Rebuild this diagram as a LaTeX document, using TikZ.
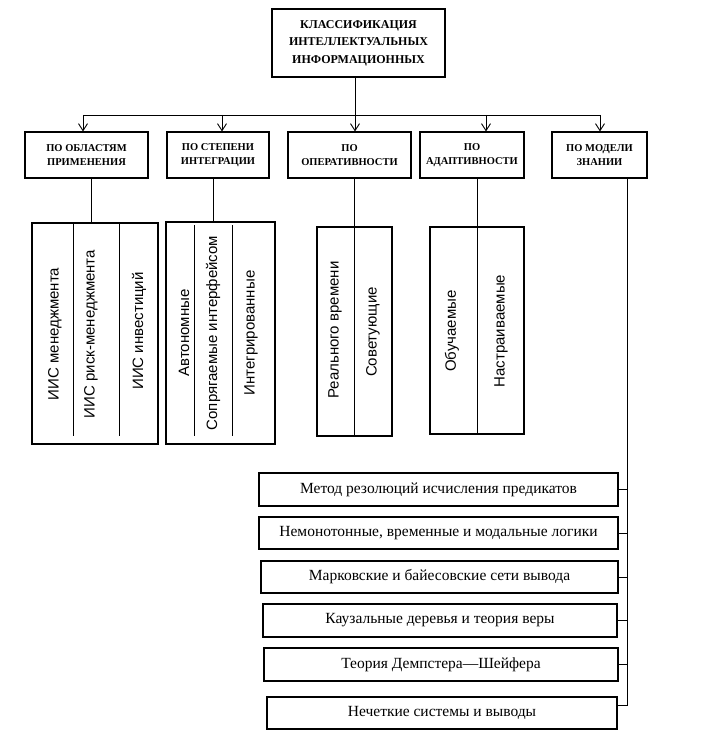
\documentclass[tikz,border=0pt]{standalone}
\usepackage{fontspec}
\setmainfont{Liberation Serif}
\newfontfamily\sansf{Liberation Sans}
\usetikzlibrary{arrows.meta}
\begin{document}
\begin{tikzpicture}[x=1pt,y=-1pt,
  box/.style={draw, line width=1.1pt, inner sep=0pt, align=center},
  topbox/.style={box, font=\bfseries\fontsize{12}{17.5}\selectfont},
  cat/.style={box, font=\bfseries\fontsize{10.5}{13.5}\selectfont},
  grp/.style={draw, line width=1.1pt, inner sep=0pt},
  vtxt/.style={rotate=90, font=\sansf\fontsize{15}{18}\selectfont, inner sep=0pt},
  item/.style={box, font=\fontsize{15.5}{18}\selectfont},
  conn/.style={line width=0.9pt},
  arr/.style={conn, -{Straight Barb[length=7pt,width=9pt]}}]
\useasboundingbox (0,0) rectangle (703,738);

% top box
\node[topbox, minimum width=173pt, minimum height=68pt] (top) at (358.5,43)
  {КЛАССИФИКАЦИЯ\\ИНТЕЛЛЕКТУАЛЬНЫХ\\ИНФОРМАЦИОННЫХ};

% category boxes
\node[cat, minimum width=123pt, minimum height=46pt] (c1) at (86.5,155) {ПО ОБЛАСТЯМ\\ПРИМЕНЕНИЯ};
\node[cat, minimum width=102pt, minimum height=46pt] (c2) at (218,155) {ПО СТЕПЕНИ\\ИНТЕГРАЦИИ};
\node[cat, minimum width=123pt, minimum height=46pt] (c3) at (349.5,155) {ПО\\ОПЕРАТИВНОСТИ};
\node[cat, minimum width=104pt, minimum height=46pt] (c4) at (472,155) {ПО\\АДАПТИВНОСТИ};
\node[cat, minimum width=95pt, minimum height=46pt] (c5) at (599.5,155) {ПО МОДЕЛИ\\ЗНАНИИ};

% bus
\coordinate (trunk) at (355,115);
\coordinate (b1) at (83,115);
\coordinate (b2) at (222,115);
\coordinate (b4) at (486,115);
\coordinate (b5) at (600,115);
\draw[conn] (b1) -- (b5);
\draw[arr] (top.south -| trunk) -- (c3.north -| trunk);
\draw[arr] (b1) -- (c1.north -| b1);
\draw[arr] (b2) -- (c2.north -| b2);
\draw[arr] (b4) -- (c4.north -| b4);
\draw[arr] (b5) -- (c5.north -| b5);

% group 1
\node[grp, minimum width=126pt, minimum height=221pt] (g1) at (95,333.5) {};
\draw[conn] (g1.north -| 73,0) ++(0,2) -- ([yshift=9pt]g1.south -| 73,0);
\draw[conn] (g1.north -| 119,0) ++(0,2) -- ([yshift=9pt]g1.south -| 119,0);
\node[vtxt] (t11) at (55,334) {ИИС менеджмента};
\node[vtxt] (t12) at (91,334) {ИИС риск-менеджмента};
\node[vtxt] (t13) at (139,331) {ИИС инвестиций};
\draw[conn] (c1.south -| 91,0) -- (g1.north -| 91,0);

% group 2
\node[grp, minimum width=109pt, minimum height=222pt] (g2) at (220.5,333) {};
\draw[conn] (g2.north -| 194,0) ++(0,4) -- ([yshift=9pt]g2.south -| 194,0);
\draw[conn] (g2.north -| 232,0) ++(0,4) -- ([yshift=9pt]g2.south -| 232,0);
\node[vtxt] (t21) at (184,333) {Автономные};
\node[vtxt] (t22) at (213,333) {Сопрягаемые интерфейсом};
\node[vtxt] (t23) at (251,333) {Интегрированные};
\draw[conn] (c2.south -| 213,0) -- (g2.north -| 213,0);

% group 3
\node[grp, minimum width=75pt, minimum height=209pt] (g3) at (354.5,331.5) {};
\node[vtxt] (t31) at (335,330) {Реального времени};
\node[vtxt] (t32) at (373,332) {Советующие};
\draw[conn] (c3.south -| 354,0) -- (g3.south -| 354,0);

% group 4
\node[grp, minimum width=94pt, minimum height=207pt] (g4) at (477,330.5) {};
\node[vtxt] (t41) at (452,331) {Обучаемые};
\node[vtxt] (t42) at (501,331) {Настраиваемые};
\draw[conn] (c4.south -| 477,0) -- (g4.south -| 477,0);

% list
\node[item, minimum width=359pt, minimum height=33pt] (l1) at (438.5,489.5) {Метод резолюций исчисления предикатов};
\node[item, minimum width=359pt, minimum height=32pt] (l2) at (438.5,533) {Немонотонные, временные и модальные логики};
\node[item, minimum width=357pt, minimum height=32pt] (l3) at (439.5,577) {Марковские и байесовские сети вывода};
\node[item, minimum width=354pt, minimum height=33pt] (l4) at (440,620.5) {Каузальные деревья и теория веры};
\node[item, minimum width=354pt, minimum height=33pt] (l5) at (441,664.5) {Теория Демпстера—Шейфера};
\node[item, minimum width=350pt, minimum height=32pt] (l6) at (442,713) {Нечеткие системы и выводы};

\coordinate (railtop) at (627,178);
\coordinate (railend) at (627,705);
\draw[conn] (c5.south -| railtop) -- (railend) -- (railend -| l6.east);
\foreach \n in {1,...,5} {
  \draw[conn] (l\n.east -| railtop) -- (l\n.east);
}
\end{tikzpicture}
\end{document}
